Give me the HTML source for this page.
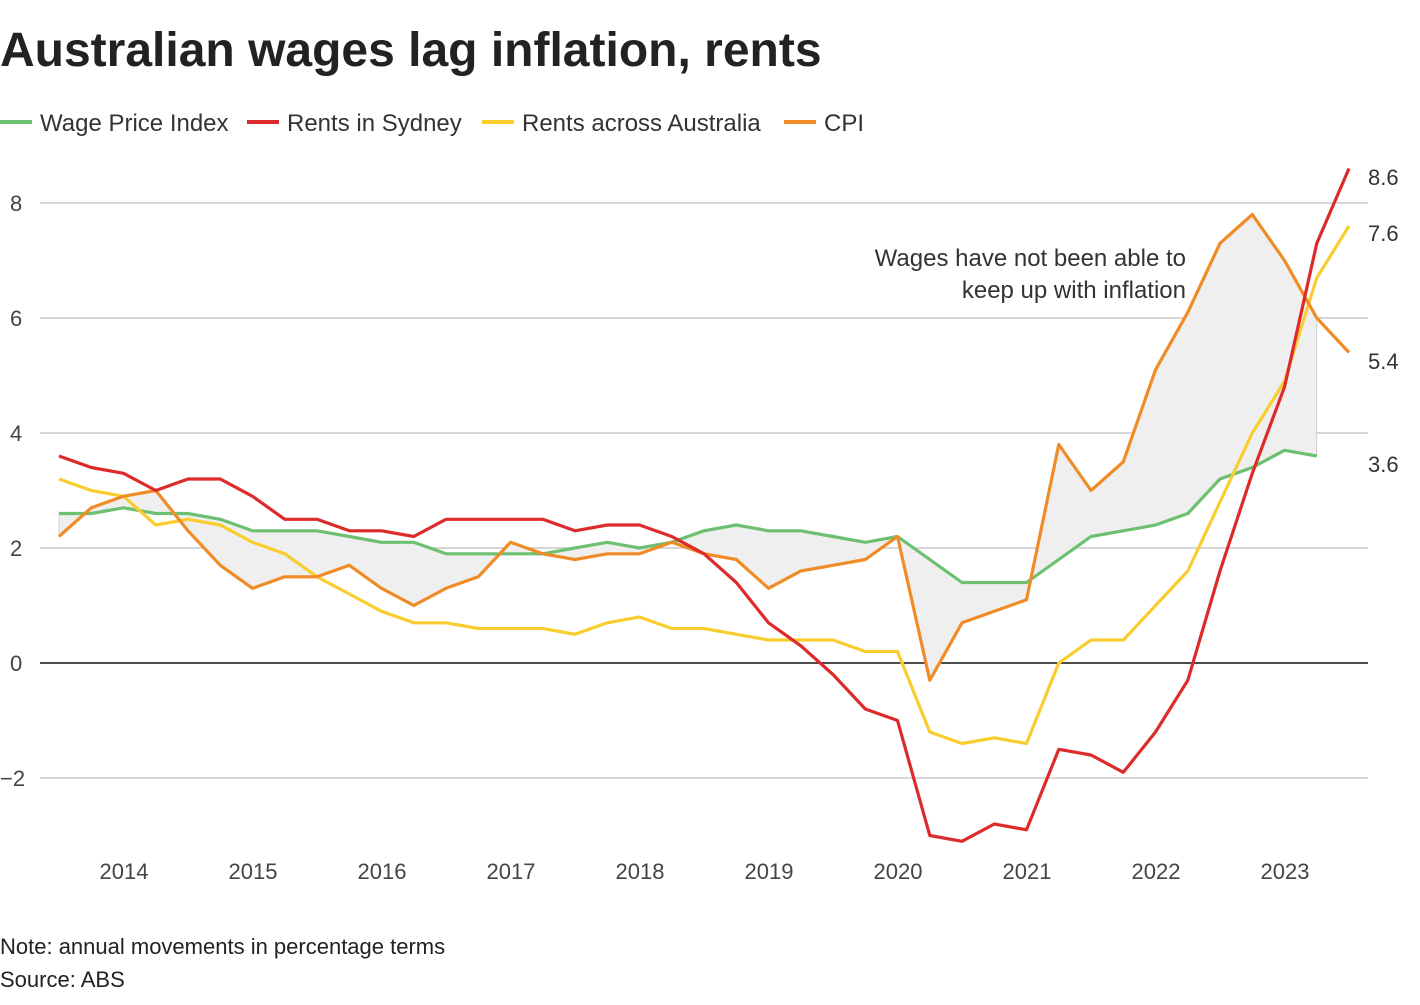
<!DOCTYPE html>
<html><head><meta charset="utf-8"><style>
body{margin:0;background:#fff;width:1420px;height:1000px;overflow:hidden;font-family:"Liberation Sans",sans-serif;}
</style></head><body>
<svg id="s" width="1420" height="1000" xmlns="http://www.w3.org/2000/svg" font-family="Liberation Sans, sans-serif">
<text x="0" y="66" font-size="48" font-weight="bold" fill="#222" letter-spacing="0">Australian wages lag inflation, rents</text>
<g font-size="24" fill="#333">
<line x1="0" y1="122" x2="32" y2="122" stroke="#6cc070" stroke-width="4"/><text x="40" y="131">Wage Price Index</text>
<line x1="247" y1="122" x2="279" y2="122" stroke="#dd2a2a" stroke-width="4"/><text x="287" y="131">Rents in Sydney</text>
<line x1="482" y1="122" x2="514" y2="122" stroke="#f9cd2e" stroke-width="4"/><text x="522" y="131">Rents across Australia</text>
<line x1="784" y1="122" x2="816" y2="122" stroke="#f08c28" stroke-width="4"/><text x="824" y="131">CPI</text>
</g>
<g stroke="#c8c8c8" stroke-width="1.5">
<line x1="40" y1="203" x2="1368" y2="203"/><line x1="40" y1="318" x2="1368" y2="318"/>
<line x1="40" y1="433" x2="1368" y2="433"/><line x1="40" y1="548" x2="1368" y2="548"/>
<line x1="40" y1="778" x2="1368" y2="778"/>
</g>
<line x1="40" y1="663" x2="1368" y2="663" stroke="#111" stroke-width="1.5"/>
<g font-size="22" fill="#444">
<text x="10" y="211">8</text><text x="10" y="326">6</text><text x="10" y="441">4</text><text x="10" y="556">2</text><text x="10" y="671">0</text><text x="0" y="786">−2</text>
</g>
<g font-size="22" fill="#444" text-anchor="middle">
<text x="124" y="879">2014</text><text x="253" y="879">2015</text><text x="382" y="879">2016</text><text x="511" y="879">2017</text><text x="640" y="879">2018</text><text x="769" y="879">2019</text><text x="898" y="879">2020</text><text x="1027" y="879">2021</text><text x="1156" y="879">2022</text><text x="1285" y="879">2023</text>
</g>
<g id="plot"></g>
<g font-size="24" fill="#333" text-anchor="end">
<text x="1186" y="266">Wages have not been able to</text>
<text x="1186" y="298">keep up with inflation</text>
</g>
<g font-size="22" fill="#333">
<text x="1368" y="185">8.6</text><text x="1368" y="241">7.6</text><text x="1368" y="369">5.4</text><text x="1368" y="472">3.6</text>
</g>
<g font-size="22" fill="#222">
<text x="0" y="954">Note: annual movements in percentage terms</text>
<text x="0" y="987">Source: ABS</text>
</g>
</svg>
<script>
var g=[2.6,2.6,2.7,2.6,2.6,2.5,2.3,2.3,2.3,2.2,2.1,2.1,1.9,1.9,1.9,1.9,2.0,2.1,2.0,2.1,2.3,2.4,2.3,2.3,2.2,2.1,2.2,1.8,1.4,1.4,1.4,1.8,2.2,2.3,2.4,2.6,3.2,3.4,3.7,3.6];
var r=[3.6,3.4,3.3,3.0,3.2,3.2,2.9,2.5,2.5,2.3,2.3,2.2,2.5,2.5,2.5,2.5,2.3,2.4,2.4,2.2,1.9,1.4,0.7,0.3,-0.2,-0.8,-1.0,-3.0,-3.1,-2.8,-2.9,-1.5,-1.6,-1.9,-1.2,-0.3,1.6,3.3,4.8,7.3,8.6];
var y=[3.2,3.0,2.9,2.4,2.5,2.4,2.1,1.9,1.5,1.2,0.9,0.7,0.7,0.6,0.6,0.6,0.5,0.7,0.8,0.6,0.6,0.5,0.4,0.4,0.4,0.2,0.2,-1.2,-1.4,-1.3,-1.4,0.0,0.4,0.4,1.0,1.6,2.8,4.0,4.9,6.7,7.6];
var c=[2.2,2.7,2.9,3.0,2.3,1.7,1.3,1.5,1.5,1.7,1.3,1.0,1.3,1.5,2.1,1.9,1.8,1.9,1.9,2.1,1.9,1.8,1.3,1.6,1.7,1.8,2.2,-0.3,0.7,0.9,1.1,3.8,3.0,3.5,5.1,6.1,7.3,7.8,7.0,6.0,5.4];
function X(i){return 59+i*32.25}function Y(v){return 663-57.5*v}
function pts(a){return a.map(function(v,i){return X(i).toFixed(1)+","+Y(v).toFixed(1)}).join(" ")}
var area=pts(g)+" "+c.slice(0,40).map(function(v,i){return [X(i).toFixed(1)+","+Y(v).toFixed(1)]}).reverse().join(" ");
var h='<polygon points="'+area+'" fill="#efefef" stroke="#bbb" stroke-width="0.6"/>';
[[g,"#6cc070"],[y,"#f9cd2e"],[c,"#f08c28"],[r,"#dd2a2a"]].forEach(function(s){h+='<polyline points="'+pts(s[0])+'" fill="none" stroke="'+s[1]+'" stroke-width="3.2" stroke-linejoin="round"/>'});
document.getElementById("plot").innerHTML=h;
</script>
</body></html>
